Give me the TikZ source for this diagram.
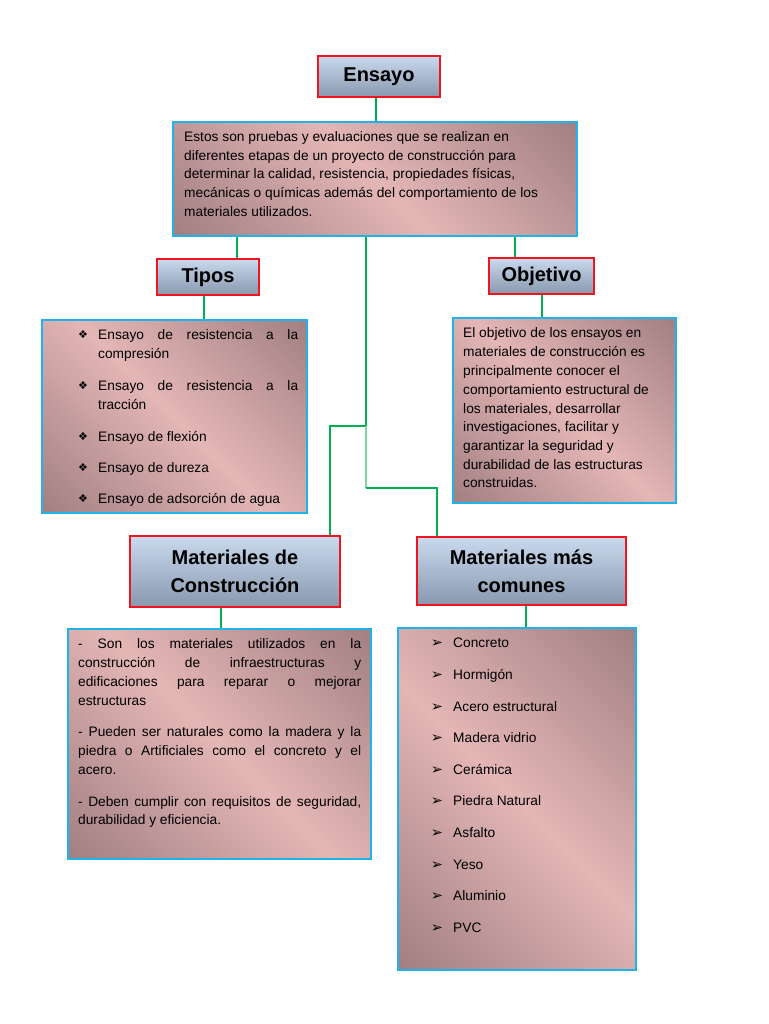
\documentclass[tikz,border=0pt]{standalone}
\usepackage{fontspec}
\setmainfont{Liberation Sans}
\newfontfamily\symf{DejaVu Sans}
\definecolor{hdtop}{HTML}{C9D9EE}
\definecolor{hdbot}{HTML}{8898AE}
\definecolor{hdred}{HTML}{F0141E}
\definecolor{bxcyan}{HTML}{1EB4EA}
\definecolor{pkdark}{HTML}{A07E80}
\definecolor{pklight}{HTML}{E4B6B6}
\definecolor{lnk}{HTML}{00B050}
\definecolor{lnklight}{HTML}{80D8A0}
\pgfdeclarehorizontalshading{pinkdiag}{100bp}{color(0bp)=(pkdark); color(14bp)=(pkdark); color(50bp)=(pklight); color(86bp)=(pkdark); color(100bp)=(pkdark)}
\newcommand\bodyf{\fontsize{13.75}{16}\selectfont}
\newcommand\headf{\fontsize{20}{28}\selectfont\bfseries}
\newcommand\jl[2]{\makebox[#1][s]{#2}}
\begin{document}
\begin{tikzpicture}[x=1pt,y=-1pt,
  hdr/.style={draw=hdred, line width=2pt, top color=hdtop, bottom color=hdbot, font=\headf, align=center, inner sep=0pt},
  pbox/.style={draw=bxcyan, line width=2pt, shading=pinkdiag, shading angle=45, inner sep=0pt},
  txt/.style={anchor=base west, inner sep=0pt, font=\bodyf},
  bul/.style={anchor=base, inner sep=0pt, font=\symf\fontsize{11}{12}\selectfont},
  arr/.style={anchor=base, inner sep=0pt, font=\symf\bfseries\fontsize{14.5}{15}\selectfont},
  lnkline/.style={draw=lnk, line width=1.6pt}]
\useasboundingbox (0,0) rectangle (768,1024);
\fill[white] (0,0) rectangle (768,1024);

% boxes
\node[hdr, minimum width=122pt, minimum height=41pt] (ens) at (379,76.5) {Ensayo};
\node[pbox, minimum width=404pt, minimum height=114pt] (desc) at (375,179) {};
\node[hdr, minimum width=102pt, minimum height=36pt] (tipos) at (208,277) {Tipos};
\node[hdr, minimum width=105pt, minimum height=36pt] (obj) at (541.5,276) {Objetivo};
\node[pbox, minimum width=265pt, minimum height=193pt] (tl) at (174.5,416.5) {};
\node[pbox, minimum width=223pt, minimum height=185pt] (ol) at (564.5,410.5) {};
\node[hdr, minimum width=210pt, minimum height=71pt] (mc) at (235,571.5) {Materiales de\\Construcción};
\node[hdr, minimum width=209pt, minimum height=68pt] (mm) at (521.5,571) {Materiales más\\comunes};
\node[pbox, minimum width=303pt, minimum height=230pt] (mct) at (219.5,744) {};
\node[pbox, minimum width=238pt, minimum height=342pt] (mmt) at (517,799) {};

% connector x positions
\coordinate (x376) at (376,0);
\coordinate (x237) at (237,0);
\coordinate (x515) at (515,0);
\coordinate (x204) at (204,0);
\coordinate (x542) at (542,0);
\coordinate (x330) at (330,0);
\coordinate (x437) at (437,0);
\coordinate (x221) at (221,0);
\coordinate (x526) at (526,0);
\coordinate (j1) at (366,426);
\coordinate (j2) at (366,488);

\draw[lnkline] (ens.south -| x376) -- (desc.north -| x376);
\draw[lnkline] (desc.south -| x237) -- (tipos.north -| x237);
\draw[lnkline] (desc.south -| x515) -- (obj.north -| x515);
\draw[lnkline] (tipos.south -| x204) -- (tl.north -| x204);
\draw[lnkline] (obj.south -| x542) -- (ol.north -| x542);
\draw[lnkline] (desc.south -| j1) -- (j1) -| (mc.north -| x330);
\draw[lnkline, draw=lnklight] (j1) -- (j2);
\draw[lnkline] (j2) -| (mm.north -| x437);
\draw[lnkline] (mc.south -| x221) -- (mct.north -| x221);
\draw[lnkline] (mm.south -| x526) -- (mmt.north -| x526);

% description text
\node[txt] (d1) at (184,142) {Estos son pruebas y evaluaciones que se realizan en};
\node[txt] (d2) at (184,161) {diferentes etapas de un proyecto de construcción para};
\node[txt] (d3) at (184,179) {determinar la calidad, resistencia, propiedades físicas,};
\node[txt] (d4) at (184,198) {mecánicas o químicas además del comportamiento de los};
\node[txt] (d5) at (184,217) {materiales utilizados.};

% tipos list
\node[bul] (tb1) at (83,338) {❖};
\node[txt] (t1a) at (98,339) {\jl{200pt}{Ensayo de resistencia a la}};
\node[txt] (t1b) at (98,358) {compresión};
\node[bul] (tb2) at (83,389) {❖};
\node[txt] (t2a) at (98,390) {\jl{200pt}{Ensayo de resistencia a la}};
\node[txt] (t2b) at (98,409) {tracción};
\node[bul] (tb3) at (83,440) {❖};
\node[txt] (t3) at (98,441) {Ensayo de flexión};
\node[bul] (tb4) at (83,471) {❖};
\node[txt] (t4) at (98,472) {Ensayo de dureza};
\node[bul] (tb5) at (83,502) {❖};
\node[txt] (t5) at (98,503) {Ensayo de adsorción de agua};

% objetivo text
\node[txt] (o1) at (463,337) {El objetivo de los ensayos en};
\node[txt] (o2) at (463,356) {materiales de construcción es};
\node[txt] (o3) at (463,375) {principalmente conocer el};
\node[txt] (o4) at (463,394) {comportamiento estructural de};
\node[txt] (o5) at (463,413) {los materiales, desarrollar};
\node[txt] (o6) at (463,431) {investigaciones, facilitar y};
\node[txt] (o7) at (463,450) {garantizar la seguridad y};
\node[txt] (o8) at (463,469) {durabilidad de las estructuras};
\node[txt] (o9) at (463,487) {construidas.};

% materiales de construccion text
\node[txt] (c1) at (78,648) {\jl{283pt}{- Son los materiales utilizados en la}};
\node[txt] (c2) at (78,667) {\jl{283pt}{construcción de infraestructuras y}};
\node[txt] (c3) at (78,686) {\jl{283pt}{edificaciones para reparar o mejorar}};
\node[txt] (c4) at (78,705) {estructuras};
\node[txt] (c5) at (78,736) {\jl{283pt}{- Pueden ser naturales como la madera y la}};
\node[txt] (c6) at (78,755) {\jl{283pt}{piedra o Artificiales como el concreto y el}};
\node[txt] (c7) at (78,774) {acero.};
\node[txt] (c8) at (78,806) {\jl{283pt}{- Deben cumplir con requisitos de seguridad,}};
\node[txt] (c9) at (78,824) {durabilidad y eficiencia.};

% materiales mas comunes list
\node[arr] (mb1) at (437,647) {➢};
\node[txt] (m1) at (453,647) {Concreto};
\node[arr] (mb2) at (437,679) {➢};
\node[txt] (m2) at (453,679) {Hormigón};
\node[arr] (mb3) at (437,711) {➢};
\node[txt] (m3) at (453,711) {Acero estructural};
\node[arr] (mb4) at (437,742) {➢};
\node[txt] (m4) at (453,742) {Madera vidrio};
\node[arr] (mb5) at (437,774) {➢};
\node[txt] (m5) at (453,774) {Cerámica};
\node[arr] (mb6) at (437,805) {➢};
\node[txt] (m6) at (453,805) {Piedra Natural};
\node[arr] (mb7) at (437,837) {➢};
\node[txt] (m7) at (453,837) {Asfalto};
\node[arr] (mb8) at (437,869) {➢};
\node[txt] (m8) at (453,869) {Yeso};
\node[arr] (mb9) at (437,900) {➢};
\node[txt] (m9) at (453,900) {Aluminio};
\node[arr] (mb10) at (437,932) {➢};
\node[txt] (m10) at (453,932) {PVC};
\end{tikzpicture}
\end{document}
